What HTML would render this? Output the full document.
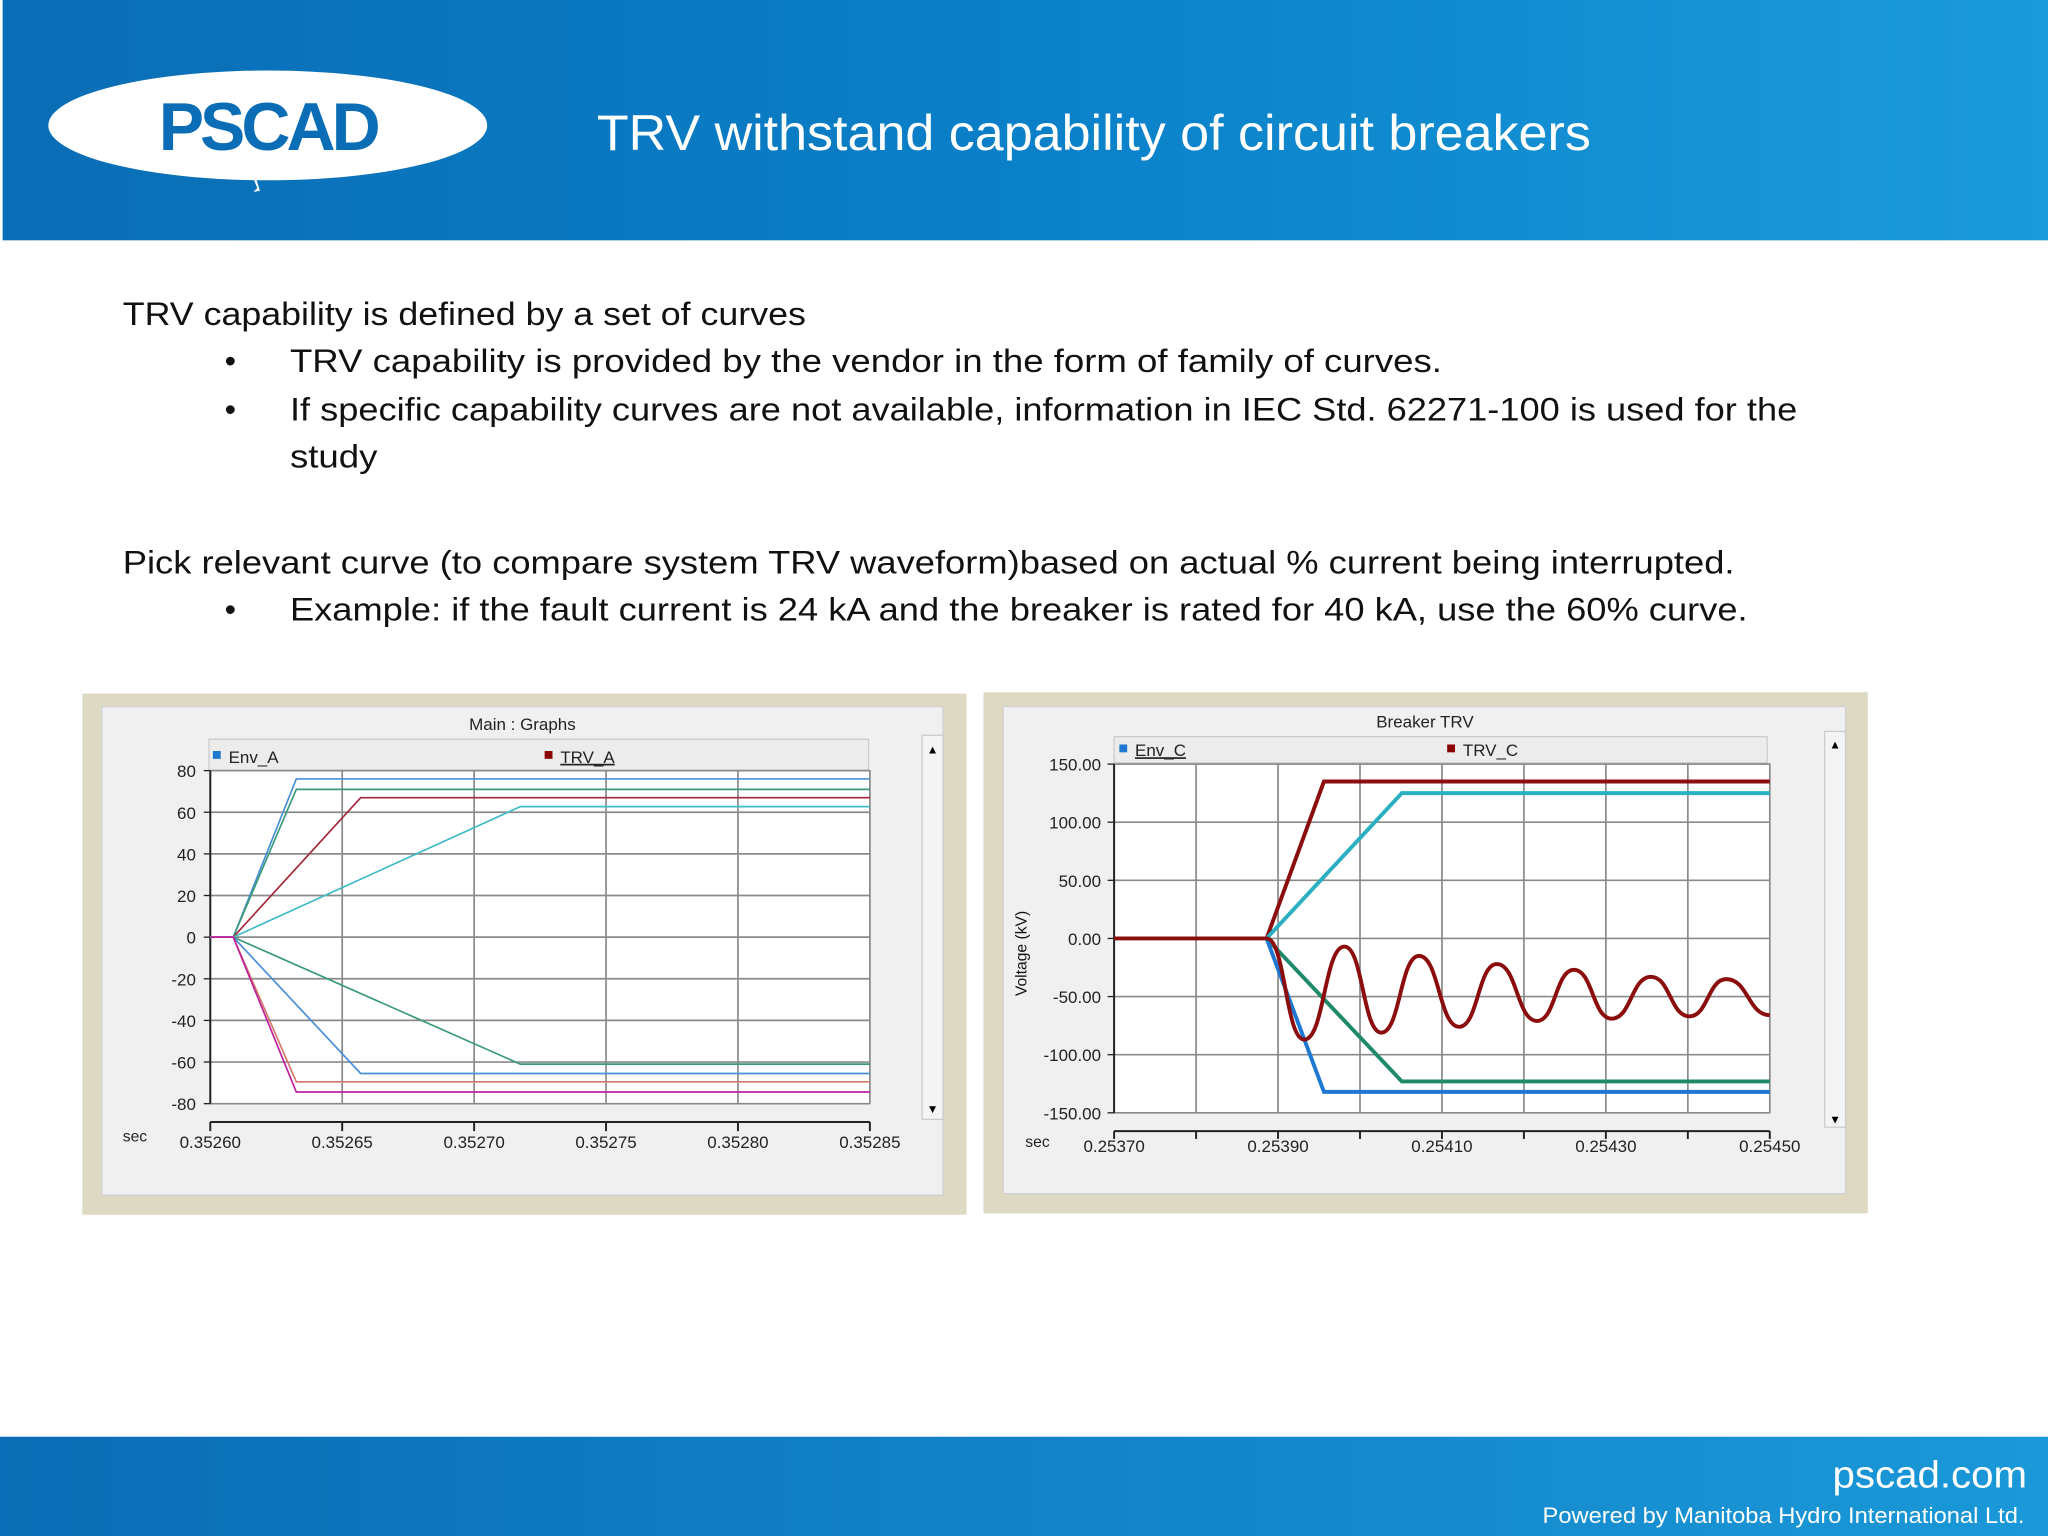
<!DOCTYPE html>
<html><head><meta charset="utf-8">
<style>
html,body{margin:0;padding:0;background:#fff;width:2048px;height:1536px;overflow:hidden}
svg{display:block}
text{font-family:"Liberation Sans",sans-serif}
.body{font-size:25px;fill:#111}
</style></head>
<body>
<svg id="page" width="2048" height="1536" viewBox="0 0 1568 1176" xmlns="http://www.w3.org/2000/svg">
<defs>
<linearGradient id="hdr" x1="0" x2="1" y1="0" y2="0"><stop offset="0" stop-color="#0a6db5"/><stop offset="0.5" stop-color="#0a80c8"/><stop offset="1" stop-color="#1b9bdb"/></linearGradient>
<linearGradient id="ftr" x1="0" x2="1" y1="0" y2="0"><stop offset="0" stop-color="#0a6db5"/><stop offset="1" stop-color="#1a98d8"/></linearGradient>
</defs>
<rect x="2" y="0" width="1566" height="184" fill="url(#hdr)"/>
<g>
<ellipse cx="205" cy="96" rx="168" ry="42" fill="#fff"/>
<path d="M187 118 L187 138 L193 134 L197 144 L194 147 L199 146 L195 133 L202 131 Z" fill="#fff"/>
<text x="205" y="115" text-anchor="middle" font-size="52" font-weight="bold" fill="#0a6db5" letter-spacing="-3">PSCAD</text>
</g>
<text x="457" y="115" font-size="38" fill="#fff" textLength="761" lengthAdjust="spacingAndGlyphs">TRV withstand capability of circuit breakers</text>

<g class="body">
<text class="body" x="94" y="249" textLength="523" lengthAdjust="spacingAndGlyphs">TRV capability is defined by a set of curves</text>
<text class="body" x="172" y="285">•</text><text class="body" x="222" y="285" textLength="882" lengthAdjust="spacingAndGlyphs">TRV capability is provided by the vendor in the form of family of curves.</text>
<text class="body" x="172" y="322">•</text><text class="body" x="222" y="322" textLength="1154" lengthAdjust="spacingAndGlyphs">If specific capability curves are not available, information in IEC Std. 62271-100 is used for the</text>
<text class="body" x="222" y="358" textLength="67" lengthAdjust="spacingAndGlyphs">study</text>
<text class="body" x="94" y="439" textLength="1234" lengthAdjust="spacingAndGlyphs">Pick relevant curve (to compare system TRV waveform)based on actual % current being interrupted.</text>
<text class="body" x="172" y="475">•</text><text class="body" x="222" y="475" textLength="1116" lengthAdjust="spacingAndGlyphs">Example: if the fault current is 24 kA and the breaker is rated for 40 kA, use the 60% curve.</text>
</g>

<!-- Left chart frame -->
<g>
<rect x="63" y="531" width="677" height="399" fill="#ddd9c3"/>
<rect x="78" y="541" width="644" height="374" fill="#f0f0f0" stroke="#d0d0d0"/>
<text x="400" y="559" text-anchor="middle" font-size="13" fill="#222">Main : Graphs</text>
<rect x="160" y="566" width="505" height="24" fill="#ececec" stroke="#ccc"/>
<rect x="163" y="575" width="6" height="6" fill="#1e78d2"/>
<text x="175" y="584" font-size="13" fill="#222">Env_A</text>
<rect x="417" y="575" width="6" height="6" fill="#8b0000"/>
<text x="429" y="584" font-size="13" fill="#222" text-decoration="underline">TRV_A</text>
<rect x="706" y="563" width="16" height="294" fill="#f4f4f4" stroke="#ccc"/>
<text x="714" y="577" text-anchor="middle" font-size="9">▲</text>
<text x="714" y="852" text-anchor="middle" font-size="9">▼</text>
<text x="94" y="874" font-size="12" fill="#222">sec</text>
</g>
<g id="left-chart"></g>

<!-- Right chart frame -->
<g>
<rect x="753" y="530" width="677" height="399" fill="#ddd9c3"/>
<rect x="768" y="541" width="645" height="373" fill="#f0f0f0" stroke="#d0d0d0"/>
<text x="1091" y="557" text-anchor="middle" font-size="13" fill="#222">Breaker TRV</text>
<rect x="853" y="564" width="500" height="20" fill="#ececec" stroke="#ccc"/>
<rect x="857" y="570" width="6" height="6" fill="#1e78d2"/>
<text x="869" y="579" font-size="13" fill="#222" text-decoration="underline">Env_C</text>
<rect x="1108" y="570" width="6" height="6" fill="#8b0000"/>
<text x="1120" y="579" font-size="13" fill="#222">TRV_C</text>
<rect x="1397" y="560" width="16" height="303" fill="#f4f4f4" stroke="#ccc"/>
<text x="1405" y="573" text-anchor="middle" font-size="9">▲</text>
<text x="1405" y="860" text-anchor="middle" font-size="9">▼</text>
<text x="785" y="878" font-size="12" fill="#222" font-family="Liberation Serif">sec</text>
<text transform="translate(786,730) rotate(-90)" text-anchor="middle" font-size="12" fill="#111">Voltage (kV)</text>
</g>
<g id="right-chart"></g>

<rect x="0" y="1100" width="1568" height="76" fill="url(#ftr)"/>
<text x="1552" y="1139" text-anchor="end" font-size="29" fill="#fff" textLength="149" lengthAdjust="spacingAndGlyphs">pscad.com</text>
<text x="1550" y="1166" text-anchor="end" font-size="17" fill="#fff" textLength="369" lengthAdjust="spacingAndGlyphs">Powered by Manitoba Hydro International Ltd.</text>
</svg>
<script>
// ---- Left chart data ----
const leftXTicks = [0.35260, 0.35265, 0.35270, 0.35275, 0.35280, 0.35285];
const leftXTickLabels = ["0.35260","0.35265","0.35270","0.35275","0.35280","0.35285"];
const leftYTicks = [80, 60, 40, 20, 0, -20, -40, -60, -80];
const leftBreakT = 0.3526087;
const leftNames = ["env-top-blue","env-top-green","trv-red","env-cyan","env-bottom-green","env-bottom-blue","trv-orange","trv-magenta"];
const leftCornerT = [0.3526326, 0.3526326, 0.352657, 0.3527175, 0.3527175, 0.352657, 0.3526326, 0.3526326];
const leftLevels = [76, 71, 67, 62.7, -61, -65.5, -69.5, -74.4];
const leftColors = ["#4a90d9","#3a9a7a","#a3283a","#40bcc8","#3a9a7a","#4a90d9","#d07a6a","#c0209e"];

// ---- Right chart data ----
const rightXTicks = [0.25370,0.25380,0.25390,0.25400,0.25410,0.25420,0.25430,0.25440,0.25450];
const rightXLabels = ["0.25370","","0.25390","","0.25410","","0.25430","","0.25450"];
const rightYTicks = [150,100,50,0,-50,-100,-150];
const rightYLabels = ["150.00","100.00","50.00","0.00","-50.00","-100.00","-150.00"];
const rightBreakT = 0.253886;
const envNames = ["trv-cap-top","env-cap-top-cyan","env-cap-bottom-green","env-c-bottom-blue"];
const envCornerT = [0.253956, 0.254051, 0.254051, 0.253956];
const envLevels = [135, 125, -123, -132];
const envColors = ["#8b0d0d","#2ab0c0","#1f8a6a","#1e78d2"];
const trvT = [0.25370,0.253886,0.253932,0.253981,0.254026,0.254072,0.254121,0.254167,0.254216,0.254261,0.254307,0.254355,0.254402,0.254447,0.25450];
const trvV = [0,0,-87,-7,-81,-15,-76,-22,-71,-27,-69,-33,-67,-35,-66];

const NS="http://www.w3.org/2000/svg";
function mk(tag, attrs, parent){const e=document.createElementNS(NS,tag);for(const k in attrs)e.setAttribute(k,attrs[k]);parent.appendChild(e);return e;}

// Left axes
const L={x0:161,x1:666,y0:845,y1:590,t0:0.35260,t1:0.35285,v0:-80,v1:80};
const lx=t=>L.x0+(t-L.t0)/(L.t1-L.t0)*(L.x1-L.x0);
const ly=v=>L.y0+(v-L.v0)/(L.v1-L.v0)*(L.y1-L.y0);
const lg=document.getElementById('left-chart');
const lplot=mk('rect',{x:L.x0,y:L.y1,width:L.x1-L.x0,height:L.y0-L.y1,fill:'#fff',stroke:'#888'},lg);


leftXTicks.forEach((t,i)=>{
  mk('line',{x1:lx(t),x2:lx(t),y1:L.y1,y2:L.y0,stroke:'#8a8a8a','stroke-width':1.3},lg);
  mk('line',{x1:lx(t),x2:lx(t),y1:859,y2:866,stroke:'#222','stroke-width':1.5},lg);
  const tx=mk('text',{x:lx(t),y:879,'text-anchor':'middle','font-size':13,fill:'#222'},lg);
  tx.textContent=leftXTickLabels[i];
  
  
});
mk('line',{x1:L.x0,x2:L.x1,y1:859,y2:859,stroke:'#222','stroke-width':1.5},lg);
leftYTicks.forEach(v=>{
  mk('line',{x1:L.x0,x2:L.x1,y1:ly(v),y2:ly(v),stroke:'#8a8a8a','stroke-width':1.3},lg);
  mk('line',{x1:L.x0-5,x2:L.x0,y1:ly(v),y2:ly(v),stroke:'#222'},lg);
  const tx=mk('text',{x:L.x0-11,y:ly(v)+5,'text-anchor':'end','font-size':13,fill:'#222'},lg);
  tx.textContent=String(v);
  
  
});
mk('line',{x1:L.x0,x2:L.x0,y1:L.y1,y2:L.y0,stroke:'#222','stroke-width':1.5},lg);
leftLevels.forEach((v,i)=>{
  const d=`M${lx(L.t0)},${ly(0)} L${lx(leftBreakT)},${ly(0)} L${lx(leftCornerT[i])},${ly(v)} L${lx(L.t1)},${ly(v)}`;
  const p=mk('path',{d:d,fill:'none',stroke:leftColors[i],'stroke-width':1.3},lg);
  
  
});

// Right axes
const R={x0:853,x1:1355,y0:852,y1:585,t0:0.25370,t1:0.25450,v0:-150,v1:150};
const rx=t=>R.x0+(t-R.t0)/(R.t1-R.t0)*(R.x1-R.x0);
const ry=v=>R.y0+(v-R.v0)/(R.v1-R.v0)*(R.y1-R.y0);
const rg=document.getElementById('right-chart');
const rplot=mk('rect',{x:R.x0,y:R.y1,width:R.x1-R.x0,height:R.y0-R.y1,fill:'#fff',stroke:'#888'},rg);


rightXTicks.forEach((t,i)=>{
  mk('line',{x1:rx(t),x2:rx(t),y1:R.y1,y2:R.y0,stroke:'#8a8a8a','stroke-width':1.3},rg);
  mk('line',{x1:rx(t),x2:rx(t),y1:866,y2:872,stroke:'#222','stroke-width':1.5},rg);
  if(rightXLabels[i]){
    const tx=mk('text',{x:rx(t),y:882,'text-anchor':'middle','font-size':13,fill:'#222','font-family':'Liberation Serif'},rg);
    tx.textContent=rightXLabels[i];
    
    
  }
});
mk('line',{x1:R.x0,x2:R.x1,y1:866,y2:866,stroke:'#222','stroke-width':1.5},rg);
rightYTicks.forEach((v,i)=>{
  mk('line',{x1:R.x0,x2:R.x1,y1:ry(v),y2:ry(v),stroke:'#8a8a8a','stroke-width':1.3},rg);
  mk('line',{x1:R.x0-5,x2:R.x0,y1:ry(v),y2:ry(v),stroke:'#222'},rg);
  const tx=mk('text',{x:R.x0-10,y:ry(v)+5,'text-anchor':'end','font-size':13,fill:'#222','font-family':'Liberation Serif'},rg);
  tx.textContent=rightYLabels[i];
  
  
});
mk('line',{x1:R.x0,x2:R.x0,y1:R.y1,y2:R.y0,stroke:'#222','stroke-width':1.5},rg);
envLevels.forEach((v,i)=>{
  const d=`M${rx(rightBreakT)},${ry(0)} L${rx(envCornerT[i])},${ry(v)} L${rx(R.t1)},${ry(v)}`;
  const p=mk('path',{d:d,fill:'none',stroke:envColors[i],'stroke-width':3},rg);
  
  
});
let pts=trvT.map((t,i)=>[rx(t),ry(trvV[i])]);
let d=`M${pts[0][0]},${pts[0][1]} L${pts[1][0]},${pts[1][1]}`;
for(let i=1;i<pts.length-1;i++){
  const a=pts[i],b=pts[i+1];const mx=(a[0]+b[0])/2;
  d+=` C${mx},${a[1]} ${mx},${b[1]} ${b[0]},${b[1]}`;
}
const trv=mk('path',{d:d,fill:'none',stroke:'#8b0d0d','stroke-width':3},rg);


</script>
</body></html>
